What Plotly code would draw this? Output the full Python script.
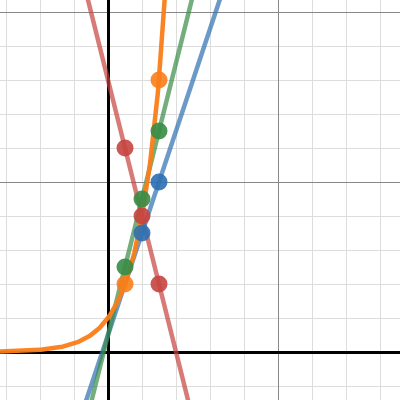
import numpy as np
import plotly.graph_objects as go

# point data
blue_x = [1, 1.5]; blue_y = [3.5, 5]
green_x = [0.5, 1, 1.5]; green_y = [2.5, 4.5, 6.5]
orange_x = [0.5, 1.5]; orange_y = [2, 8]
red_x = [0.5, 1, 1.5]; red_y = [6, 4, 2]

# curve parameters
blue_slope, blue_icpt = 3, 0.5
green_slope, green_icpt = 4, 0.5
red_slope, red_icpt = -4, 8
orange_base = 4

XR = [-108/34, 292/34]
YR = [-48/34, 352/34]

xs = np.linspace(XR[0], XR[1], 600)
C = {"red": "#c74440", "blue": "#2d70b3", "green": "#388c46", "orange": "#fa7e19"}

fig = go.Figure()
def line(y, c, op=0.7):
    fig.add_trace(go.Scatter(x=xs, y=y, mode="lines", line=dict(color=c, width=4.5), opacity=op, hoverinfo="skip"))
line(red_slope*xs+red_icpt, C["red"])
line(blue_slope*xs+blue_icpt, C["blue"])
line(green_slope*xs+green_icpt, C["green"])
ys = orange_base**xs
ys = np.where(ys > 20, np.nan, ys)
line(ys, C["orange"], 0.95)

for px, py, c in [(blue_x, blue_y, "blue"), (green_x, green_y, "green"), (red_x, red_y, "red"), (orange_x, orange_y, "orange")]:
    fig.add_trace(go.Scatter(x=px, y=py, mode="markers", marker=dict(color=C[c], size=17), opacity=0.9))

ax = dict(showticklabels=False, dtick=5, gridcolor="#888888", gridwidth=1,
          minor=dict(dtick=1, gridcolor="#dddddd", gridwidth=1, showgrid=True),
          zeroline=True, zerolinecolor="black", zerolinewidth=2.5, showline=False, ticks="", fixedrange=True)
fig.update_xaxes(range=XR, **ax)
fig.update_yaxes(range=YR, **ax)
fig.update_layout(width=400, height=400, margin=dict(l=0, r=0, t=0, b=0),
                  plot_bgcolor="white", paper_bgcolor="white", showlegend=False)
fig.write_html("out.html", config={"displayModeBar": False},
               post_script="document.body.style.margin='0';document.body.style.overflow='hidden';")
